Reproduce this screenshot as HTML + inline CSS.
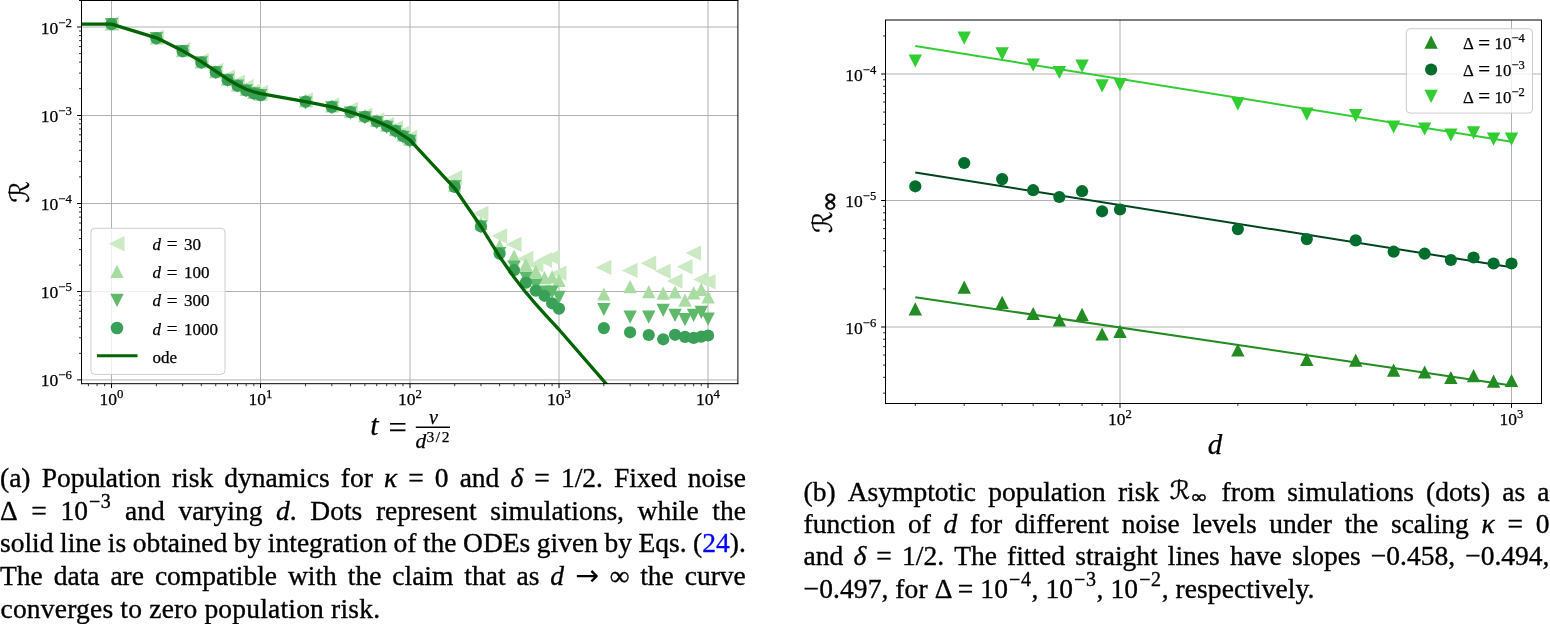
<!DOCTYPE html><html><head><meta charset="utf-8"><style>
html,body{margin:0;padding:0;background:#fff;width:1550px;height:624px;overflow:hidden;position:relative}
.c{position:absolute;font-family:'Liberation Serif', 'DejaVu Serif', serif;font-size:27.5px;line-height:1;color:#000;white-space:nowrap;-webkit-text-stroke:0.35px #000}
svg text{stroke:#000;stroke-width:0.25px}
.j{display:flex;justify-content:space-between}
.c i{font-style:italic}
.c b.l{font-weight:normal;color:#0000ff;-webkit-text-stroke:0.35px #0000ff}
.c sup{font-size:20px;vertical-align:0;position:relative;top:-11.5px;letter-spacing:0.6px;margin-left:1px}
.c sub{font-family:"DejaVu Sans",serif;font-size:21.5px;vertical-align:0;position:relative;top:3.2px;left:-1.5px;-webkit-text-stroke:0.5px #000;display:inline-block;transform:scaleY(0.85)}
.m{font-family:"DejaVu Sans",serif;font-size:25.5px;-webkit-text-stroke:0.4px #000;position:relative;top:-1.5px;left:-1.5px}
.ar{font-family:"DejaVu Sans",serif;font-size:28.5px;-webkit-text-stroke:0}
</style></head><body>
<svg width="1550" height="624" viewBox="0 0 1550 624" style="position:absolute;left:0;top:0">
<defs><clipPath id="cl"><rect x="81.5" y="0.5" width="656.4" height="383.2"/></clipPath>
<clipPath id="cr"><rect x="885.5" y="20" width="656" height="383.5"/></clipPath></defs>
<path d="M111.5 0.5V383.7M260.5 0.5V383.7M410 0.5V383.7M559 0.5V383.7M708 0.5V383.7M81.5 379.9H737.9M81.5 291.5H737.9M81.5 203.5H737.9M81.5 115.5H737.9M81.5 27H737.9" stroke="#b0b0b0" stroke-width="1" fill="none"/>
<path d="M1120 20V403.5M1511.5 20V403.5M885.5 327H1541.5M885.5 200.5H1541.5M885.5 74H1541.5" stroke="#b0b0b0" stroke-width="1" fill="none"/>
<g clip-path="url(#cl)">
<polygon points="103.3,23.6 119,15.9 119,31.3" fill="#cbeac4"/>
<polygon points="148.2,37.2 163.9,29.5 163.9,44.9" fill="#cbeac4"/>
<polygon points="174.46,49.8 190.16,42.1 190.16,57.5" fill="#cbeac4"/>
<polygon points="193.1,60.8 208.8,53.1 208.8,68.5" fill="#cbeac4"/>
<polygon points="207.55,70.5 223.25,62.8 223.25,78.2" fill="#cbeac4"/>
<polygon points="219.36,77.1 235.06,69.4 235.06,84.8" fill="#cbeac4"/>
<polygon points="229.35,82.1 245.05,74.4 245.05,89.8" fill="#cbeac4"/>
<polygon points="238,86.7 253.7,79 253.7,94.4" fill="#cbeac4"/>
<polygon points="245.63,90.8 261.33,83.1 261.33,98.5" fill="#cbeac4"/>
<polygon points="252.45,92.5 268.15,84.8 268.15,100.2" fill="#cbeac4"/>
<polygon points="297.35,100 313.05,92.3 313.05,107.7" fill="#cbeac4"/>
<polygon points="323.61,105 339.31,97.3 339.31,112.7" fill="#cbeac4"/>
<polygon points="342.25,109.4 357.95,101.7 357.95,117.1" fill="#cbeac4"/>
<polygon points="356.7,115.1 372.4,107.4 372.4,122.8" fill="#cbeac4"/>
<polygon points="368.51,120.3 384.21,112.6 384.21,128" fill="#cbeac4"/>
<polygon points="378.5,124.5 394.2,116.8 394.2,132.2" fill="#cbeac4"/>
<polygon points="387.15,128.1 402.85,120.4 402.85,135.8" fill="#cbeac4"/>
<polygon points="394.78,132.8 410.48,125.1 410.48,140.5" fill="#cbeac4"/>
<polygon points="401.6,137.5 417.3,129.8 417.3,145.2" fill="#cbeac4"/>
<polygon points="446.5,177.8 462.2,170.1 462.2,185.5" fill="#cbeac4"/>
<polygon points="472.76,213.5 488.46,205.8 488.46,221.2" fill="#cbeac4"/>
<polygon points="491.4,236 507.1,228.3 507.1,243.7" fill="#cbeac4"/>
<polygon points="505.85,244.4 521.55,236.7 521.55,252.1" fill="#cbeac4"/>
<polygon points="517.66,258.5 533.36,250.8 533.36,266.2" fill="#cbeac4"/>
<polygon points="527.65,265 543.35,257.3 543.35,272.7" fill="#cbeac4"/>
<polygon points="536.3,260 552,252.3 552,267.7" fill="#cbeac4"/>
<polygon points="543.93,257.5 559.63,249.8 559.63,265.2" fill="#cbeac4"/>
<polygon points="550.75,273.2 566.45,265.5 566.45,280.9" fill="#cbeac4"/>
<polygon points="595.65,267.4 611.35,259.7 611.35,275.1" fill="#cbeac4"/>
<polygon points="621.91,270.4 637.61,262.7 637.61,278.1" fill="#cbeac4"/>
<polygon points="640.55,263.2 656.25,255.5 656.25,270.9" fill="#cbeac4"/>
<polygon points="655,271.25 670.7,263.55 670.7,278.95" fill="#cbeac4"/>
<polygon points="666.81,281.1 682.51,273.4 682.51,288.8" fill="#cbeac4"/>
<polygon points="676.8,266.7 692.5,259 692.5,274.4" fill="#cbeac4"/>
<polygon points="685.45,253.1 701.15,245.4 701.15,260.8" fill="#cbeac4"/>
<polygon points="693.08,279.4 708.78,271.7 708.78,287.1" fill="#cbeac4"/>
<polygon points="699.9,281.8 715.6,274.1 715.6,289.5" fill="#cbeac4"/>
<polygon points="111.5,17.3 104.8,30.5 118.2,30.5" fill="#a9dca2"/>
<polygon points="156.4,31.4 149.7,44.6 163.1,44.6" fill="#a9dca2"/>
<polygon points="182.66,44.1 175.96,57.3 189.36,57.3" fill="#a9dca2"/>
<polygon points="201.3,55.4 194.6,68.6 208,68.6" fill="#a9dca2"/>
<polygon points="215.75,65.1 209.05,78.3 222.45,78.3" fill="#a9dca2"/>
<polygon points="227.56,72.6 220.86,85.8 234.26,85.8" fill="#a9dca2"/>
<polygon points="237.55,78.3 230.85,91.5 244.25,91.5" fill="#a9dca2"/>
<polygon points="246.2,82.9 239.5,96.1 252.9,96.1" fill="#a9dca2"/>
<polygon points="253.83,85.9 247.13,99.1 260.53,99.1" fill="#a9dca2"/>
<polygon points="260.65,87.6 253.95,100.8 267.35,100.8" fill="#a9dca2"/>
<polygon points="305.55,94.1 298.85,107.3 312.25,107.3" fill="#a9dca2"/>
<polygon points="331.81,99.3 325.11,112.5 338.51,112.5" fill="#a9dca2"/>
<polygon points="350.45,104.6 343.75,117.8 357.15,117.8" fill="#a9dca2"/>
<polygon points="364.9,109.1 358.2,122.3 371.6,122.3" fill="#a9dca2"/>
<polygon points="376.71,113.9 370.01,127.1 383.41,127.1" fill="#a9dca2"/>
<polygon points="386.7,118.6 380,131.8 393.4,131.8" fill="#a9dca2"/>
<polygon points="395.35,123.1 388.65,136.3 402.05,136.3" fill="#a9dca2"/>
<polygon points="402.98,128.3 396.28,141.5 409.68,141.5" fill="#a9dca2"/>
<polygon points="409.8,132.6 403.1,145.8 416.5,145.8" fill="#a9dca2"/>
<polygon points="454.7,178.6 448,191.8 461.4,191.8" fill="#a9dca2"/>
<polygon points="480.96,216.8 474.26,230 487.66,230" fill="#a9dca2"/>
<polygon points="499.6,239 492.9,252.2 506.3,252.2" fill="#a9dca2"/>
<polygon points="514.05,249.6 507.35,262.8 520.75,262.8" fill="#a9dca2"/>
<polygon points="525.86,257.9 519.16,271.1 532.56,271.1" fill="#a9dca2"/>
<polygon points="535.85,264.8 529.15,278 542.55,278" fill="#a9dca2"/>
<polygon points="544.5,271 537.8,284.2 551.2,284.2" fill="#a9dca2"/>
<polygon points="552.13,270.2 545.43,283.4 558.83,283.4" fill="#a9dca2"/>
<polygon points="558.95,273.7 552.25,286.9 565.65,286.9" fill="#a9dca2"/>
<polygon points="603.85,287.4 597.15,300.6 610.55,300.6" fill="#a9dca2"/>
<polygon points="630.11,280.1 623.41,293.3 636.81,293.3" fill="#a9dca2"/>
<polygon points="648.75,285 642.05,298.2 655.45,298.2" fill="#a9dca2"/>
<polygon points="663.2,286.6 656.5,299.8 669.9,299.8" fill="#a9dca2"/>
<polygon points="675.01,285.4 668.31,298.6 681.71,298.6" fill="#a9dca2"/>
<polygon points="685,293.6 678.3,306.8 691.7,306.8" fill="#a9dca2"/>
<polygon points="693.65,286.2 686.95,299.4 700.35,299.4" fill="#a9dca2"/>
<polygon points="701.28,282.7 694.58,295.9 707.98,295.9" fill="#a9dca2"/>
<polygon points="708.1,290.2 701.4,303.4 714.8,303.4" fill="#a9dca2"/>
<polygon points="111.5,31.1 104.8,17.9 118.2,17.9" fill="#5eb96a"/>
<polygon points="156.4,45.2 149.7,32 163.1,32" fill="#5eb96a"/>
<polygon points="182.66,58.1 175.96,44.9 189.36,44.9" fill="#5eb96a"/>
<polygon points="201.3,69.4 194.6,56.2 208,56.2" fill="#5eb96a"/>
<polygon points="215.75,79.2 209.05,66 222.45,66" fill="#5eb96a"/>
<polygon points="227.56,86.9 220.86,73.7 234.26,73.7" fill="#5eb96a"/>
<polygon points="237.55,92.7 230.85,79.5 244.25,79.5" fill="#5eb96a"/>
<polygon points="246.2,97.4 239.5,84.2 252.9,84.2" fill="#5eb96a"/>
<polygon points="253.83,100.4 247.13,87.2 260.53,87.2" fill="#5eb96a"/>
<polygon points="260.65,102.1 253.95,88.9 267.35,88.9" fill="#5eb96a"/>
<polygon points="305.55,109.6 298.85,96.4 312.25,96.4" fill="#5eb96a"/>
<polygon points="331.81,114.4 325.11,101.2 338.51,101.2" fill="#5eb96a"/>
<polygon points="350.45,119.7 343.75,106.5 357.15,106.5" fill="#5eb96a"/>
<polygon points="364.9,124.4 358.2,111.2 371.6,111.2" fill="#5eb96a"/>
<polygon points="376.71,129.2 370.01,116 383.41,116" fill="#5eb96a"/>
<polygon points="386.7,133.9 380,120.7 393.4,120.7" fill="#5eb96a"/>
<polygon points="395.35,138.4 388.65,125.2 402.05,125.2" fill="#5eb96a"/>
<polygon points="402.98,143.9 396.28,130.7 409.68,130.7" fill="#5eb96a"/>
<polygon points="409.8,147.9 403.1,134.7 416.5,134.7" fill="#5eb96a"/>
<polygon points="454.7,193.1 448,179.9 461.4,179.9" fill="#5eb96a"/>
<polygon points="480.96,233.4 474.26,220.2 487.66,220.2" fill="#5eb96a"/>
<polygon points="499.6,260.3 492.9,247.1 506.3,247.1" fill="#5eb96a"/>
<polygon points="514.05,273.6 507.35,260.4 520.75,260.4" fill="#5eb96a"/>
<polygon points="525.86,284.6 519.16,271.4 532.56,271.4" fill="#5eb96a"/>
<polygon points="535.85,291.7 529.15,278.5 542.55,278.5" fill="#5eb96a"/>
<polygon points="544.5,298.6 537.8,285.4 551.2,285.4" fill="#5eb96a"/>
<polygon points="552.13,298.6 545.43,285.4 558.83,285.4" fill="#5eb96a"/>
<polygon points="558.95,304 552.25,290.8 565.65,290.8" fill="#5eb96a"/>
<polygon points="603.85,316.1 597.15,302.9 610.55,302.9" fill="#5eb96a"/>
<polygon points="630.11,323.7 623.41,310.5 636.81,310.5" fill="#5eb96a"/>
<polygon points="648.75,323.7 642.05,310.5 655.45,310.5" fill="#5eb96a"/>
<polygon points="663.2,316.9 656.5,303.7 669.9,303.7" fill="#5eb96a"/>
<polygon points="675.01,321.9 668.31,308.7 681.71,308.7" fill="#5eb96a"/>
<polygon points="685,326.2 678.3,313 691.7,313" fill="#5eb96a"/>
<polygon points="693.65,321.9 686.95,308.7 700.35,308.7" fill="#5eb96a"/>
<polygon points="701.28,319 694.58,305.8 707.98,305.8" fill="#5eb96a"/>
<polygon points="708.1,325.8 701.4,312.6 714.8,312.6" fill="#5eb96a"/>
<circle cx="111.5" cy="24.2" r="6.1" fill="#3a9f57"/>
<circle cx="156.4" cy="38.3" r="6.1" fill="#3a9f57"/>
<circle cx="182.66" cy="51.2" r="6.1" fill="#3a9f57"/>
<circle cx="201.3" cy="62.5" r="6.1" fill="#3a9f57"/>
<circle cx="215.75" cy="72.3" r="6.1" fill="#3a9f57"/>
<circle cx="227.56" cy="80" r="6.1" fill="#3a9f57"/>
<circle cx="237.55" cy="85.8" r="6.1" fill="#3a9f57"/>
<circle cx="246.2" cy="90.5" r="6.1" fill="#3a9f57"/>
<circle cx="253.83" cy="93.5" r="6.1" fill="#3a9f57"/>
<circle cx="260.65" cy="95.2" r="6.1" fill="#3a9f57"/>
<circle cx="305.55" cy="101.7" r="6.1" fill="#3a9f57"/>
<circle cx="331.81" cy="106.9" r="6.1" fill="#3a9f57"/>
<circle cx="350.45" cy="112.1" r="6.1" fill="#3a9f57"/>
<circle cx="364.9" cy="116.8" r="6.1" fill="#3a9f57"/>
<circle cx="376.71" cy="121.5" r="6.1" fill="#3a9f57"/>
<circle cx="386.7" cy="126.1" r="6.1" fill="#3a9f57"/>
<circle cx="395.35" cy="130.8" r="6.1" fill="#3a9f57"/>
<circle cx="402.98" cy="136" r="6.1" fill="#3a9f57"/>
<circle cx="409.8" cy="140.2" r="6.1" fill="#3a9f57"/>
<circle cx="454.7" cy="186.9" r="6.1" fill="#3a9f57"/>
<circle cx="480.96" cy="226.4" r="6.1" fill="#3a9f57"/>
<circle cx="499.6" cy="253.7" r="6.1" fill="#3a9f57"/>
<circle cx="514.05" cy="270.2" r="6.1" fill="#3a9f57"/>
<circle cx="525.86" cy="282.6" r="6.1" fill="#3a9f57"/>
<circle cx="535.85" cy="290.6" r="6.1" fill="#3a9f57"/>
<circle cx="544.5" cy="295.8" r="6.1" fill="#3a9f57"/>
<circle cx="552.13" cy="303.3" r="6.1" fill="#3a9f57"/>
<circle cx="558.95" cy="308.6" r="6.1" fill="#3a9f57"/>
<circle cx="603.85" cy="328.1" r="6.1" fill="#3a9f57"/>
<circle cx="630.11" cy="332.3" r="6.1" fill="#3a9f57"/>
<circle cx="648.75" cy="335" r="6.1" fill="#3a9f57"/>
<circle cx="663.2" cy="339.3" r="6.1" fill="#3a9f57"/>
<circle cx="675.01" cy="334.8" r="6.1" fill="#3a9f57"/>
<circle cx="685" cy="336.9" r="6.1" fill="#3a9f57"/>
<circle cx="693.65" cy="337.9" r="6.1" fill="#3a9f57"/>
<circle cx="701.28" cy="336.7" r="6.1" fill="#3a9f57"/>
<circle cx="708.1" cy="335.5" r="6.1" fill="#3a9f57"/>
<polyline points="79.5,24.2 111.5,24.2 156.4,37.8 182.66,50.8 201.3,61.7 215.75,71.2 227.56,79.2 237.55,85 246.2,89.2 253.83,91.8 260.65,93.6 305.55,101.7 331.81,106.9 350.45,112.1 364.9,116.8 376.71,121.3 386.7,125.8 395.35,130.3 402.98,135.3 409.8,139.9 454.7,188.3 480.96,226.5 499.6,256.6 514.05,277.3 525.86,292.4 535.85,304.2 544.5,313.9 552.13,322.2 558.95,329.5 603.85,381.1 630.11,411.2" fill="none" stroke="#006400" stroke-width="3.3" stroke-linejoin="round" stroke-linecap="butt"/>
</g>
<g clip-path="url(#cr)">
<line x1="915.29" y1="297.2" x2="1511.5" y2="385.6" stroke="#228b22" stroke-width="2"/>
<line x1="915.29" y1="172.4" x2="1511.5" y2="267.3" stroke="#00441b" stroke-width="2"/>
<line x1="915.29" y1="46" x2="1511.5" y2="141.8" stroke="#32cd32" stroke-width="2"/>
<polygon points="915.29,302.3 908.59,315.5 921.99,315.5" fill="#228b22"/>
<polygon points="964.21,280.5 957.51,293.7 970.91,293.7" fill="#228b22"/>
<polygon points="1002.15,295.8 995.45,309 1008.85,309" fill="#228b22"/>
<polygon points="1033.15,306.9 1026.45,320.1 1039.85,320.1" fill="#228b22"/>
<polygon points="1059.36,313.3 1052.66,326.5 1066.06,326.5" fill="#228b22"/>
<polygon points="1082.06,307.8 1075.36,321 1088.76,321" fill="#228b22"/>
<polygon points="1102.09,327.4 1095.39,340.6 1108.79,340.6" fill="#228b22"/>
<polygon points="1120,324.8 1113.3,338 1126.7,338" fill="#228b22"/>
<polygon points="1237.85,343.4 1231.15,356.6 1244.55,356.6" fill="#228b22"/>
<polygon points="1306.79,352.7 1300.09,365.9 1313.49,365.9" fill="#228b22"/>
<polygon points="1355.71,353.5 1349.01,366.7 1362.41,366.7" fill="#228b22"/>
<polygon points="1393.65,363.6 1386.95,376.8 1400.35,376.8" fill="#228b22"/>
<polygon points="1424.65,365.4 1417.95,378.6 1431.35,378.6" fill="#228b22"/>
<polygon points="1450.86,370.9 1444.16,384.1 1457.56,384.1" fill="#228b22"/>
<polygon points="1473.56,369.1 1466.86,382.3 1480.26,382.3" fill="#228b22"/>
<polygon points="1493.59,374.6 1486.89,387.8 1500.29,387.8" fill="#228b22"/>
<polygon points="1511.5,373.9 1504.8,387.1 1518.2,387.1" fill="#228b22"/>
<circle cx="915.29" cy="186.3" r="6.1" fill="#006d2c"/>
<circle cx="964.21" cy="163" r="6.1" fill="#006d2c"/>
<circle cx="1002.15" cy="179.1" r="6.1" fill="#006d2c"/>
<circle cx="1033.15" cy="190.2" r="6.1" fill="#006d2c"/>
<circle cx="1059.36" cy="197" r="6.1" fill="#006d2c"/>
<circle cx="1082.06" cy="191.2" r="6.1" fill="#006d2c"/>
<circle cx="1102.09" cy="211.3" r="6.1" fill="#006d2c"/>
<circle cx="1120" cy="209.5" r="6.1" fill="#006d2c"/>
<circle cx="1237.85" cy="229.1" r="6.1" fill="#006d2c"/>
<circle cx="1306.79" cy="239.1" r="6.1" fill="#006d2c"/>
<circle cx="1355.71" cy="240.4" r="6.1" fill="#006d2c"/>
<circle cx="1393.65" cy="251.7" r="6.1" fill="#006d2c"/>
<circle cx="1424.65" cy="253.7" r="6.1" fill="#006d2c"/>
<circle cx="1450.86" cy="260" r="6.1" fill="#006d2c"/>
<circle cx="1473.56" cy="257.5" r="6.1" fill="#006d2c"/>
<circle cx="1493.59" cy="263.5" r="6.1" fill="#006d2c"/>
<circle cx="1511.5" cy="263.5" r="6.1" fill="#006d2c"/>
<polygon points="915.29,67.6 908.59,54.4 921.99,54.4" fill="#32cd32"/>
<polygon points="964.21,44.8 957.51,31.6 970.91,31.6" fill="#32cd32"/>
<polygon points="1002.15,60.5 995.45,47.3 1008.85,47.3" fill="#32cd32"/>
<polygon points="1033.15,71.6 1026.45,58.4 1039.85,58.4" fill="#32cd32"/>
<polygon points="1059.36,79.1 1052.66,65.9 1066.06,65.9" fill="#32cd32"/>
<polygon points="1082.06,72.7 1075.36,59.5 1088.76,59.5" fill="#32cd32"/>
<polygon points="1102.09,92.5 1095.39,79.3 1108.79,79.3" fill="#32cd32"/>
<polygon points="1120,91.2 1113.3,78 1126.7,78" fill="#32cd32"/>
<polygon points="1237.85,110.4 1231.15,97.2 1244.55,97.2" fill="#32cd32"/>
<polygon points="1306.79,120.8 1300.09,107.6 1313.49,107.6" fill="#32cd32"/>
<polygon points="1355.71,122.3 1349.01,109.1 1362.41,109.1" fill="#32cd32"/>
<polygon points="1393.65,133.6 1386.95,120.4 1400.35,120.4" fill="#32cd32"/>
<polygon points="1424.65,135.6 1417.95,122.4 1431.35,122.4" fill="#32cd32"/>
<polygon points="1450.86,141.6 1444.16,128.4 1457.56,128.4" fill="#32cd32"/>
<polygon points="1473.56,139.4 1466.86,126.2 1480.26,126.2" fill="#32cd32"/>
<polygon points="1493.59,145.7 1486.89,132.5 1500.29,132.5" fill="#32cd32"/>
<polygon points="1511.5,145.7 1504.8,132.5 1518.2,132.5" fill="#32cd32"/>
</g>
<path d="M81.5 379.9H77.1M81.5 291.5H77.1M81.5 203.5H77.1M81.5 115.5H77.1M81.5 27H77.1M111.5 383.7V388.1M260.5 383.7V388.1M410 383.7V388.1M559 383.7V388.1M708 383.7V388.1" stroke="#000" stroke-width="1" fill="none"/>
<path d="M81.5 353.36H79M81.5 337.82H79M81.5 326.8H79M81.5 318.25H79M81.5 311.26H79M81.5 305.36H79M81.5 300.24H79M81.5 295.73H79M81.5 265.13H79M81.5 249.59H79M81.5 238.57H79M81.5 230.02H79M81.5 223.03H79M81.5 217.13H79M81.5 212.01H79M81.5 207.5H79M81.5 176.9H79M81.5 161.36H79M81.5 150.34H79M81.5 141.79H79M81.5 134.8H79M81.5 128.9H79M81.5 123.78H79M81.5 119.27H79M81.5 88.67H79M81.5 73.13H79M81.5 62.11H79M81.5 53.56H79M81.5 46.57H79M81.5 40.67H79M81.5 35.55H79M81.5 31.04H79M88.4 383.7V386.2M97.05 383.7V386.2M104.68 383.7V386.2M156.4 383.7V386.2M182.66 383.7V386.2M201.3 383.7V386.2M215.75 383.7V386.2M227.56 383.7V386.2M237.55 383.7V386.2M246.2 383.7V386.2M253.83 383.7V386.2M305.55 383.7V386.2M331.81 383.7V386.2M350.45 383.7V386.2M364.9 383.7V386.2M376.71 383.7V386.2M386.7 383.7V386.2M395.35 383.7V386.2M402.98 383.7V386.2M454.7 383.7V386.2M480.96 383.7V386.2M499.6 383.7V386.2M514.05 383.7V386.2M525.86 383.7V386.2M535.85 383.7V386.2M544.5 383.7V386.2M552.13 383.7V386.2M603.85 383.7V386.2M630.11 383.7V386.2M648.75 383.7V386.2M663.2 383.7V386.2M675.01 383.7V386.2M685 383.7V386.2M693.65 383.7V386.2M701.28 383.7V386.2" stroke="#000" stroke-width="0.8" fill="none"/>
<path d="M885.5 327H881.1M885.5 200.5H881.1M885.5 74H881.1M1120 403.5V407.9M1511.5 403.5V407.9" stroke="#000" stroke-width="1" fill="none"/>
<path d="M885.5 393.14H883M885.5 377.34H883M885.5 365.08H883M885.5 355.06H883M885.5 346.6H883M885.5 339.26H883M885.5 332.79H883M885.5 288.92H883M885.5 266.64H883M885.5 250.84H883M885.5 238.58H883M885.5 228.56H883M885.5 220.1H883M885.5 212.76H883M885.5 206.29H883M885.5 162.42H883M885.5 140.14H883M885.5 124.34H883M885.5 112.08H883M885.5 102.06H883M885.5 93.6H883M885.5 86.26H883M885.5 79.79H883M885.5 35.92H883M915.29 403.5V406M964.21 403.5V406M1002.15 403.5V406M1033.15 403.5V406M1059.36 403.5V406M1082.06 403.5V406M1102.09 403.5V406M1237.85 403.5V406M1306.79 403.5V406M1355.71 403.5V406M1393.65 403.5V406M1424.65 403.5V406M1450.86 403.5V406M1473.56 403.5V406M1493.59 403.5V406" stroke="#000" stroke-width="0.8" fill="none"/>
<path d="M79 0.5H738.4M81.5 0V384.2M737.9 0V384.2M81 383.7H738.4" stroke="#000" stroke-width="1" fill="none"/>
<rect x="885.5" y="20" width="656" height="383.5" fill="none" stroke="#000" stroke-width="1"/>
<rect x="90.9" y="228.25" width="134.1" height="146.15" rx="4" ry="4" fill="#fff" fill-opacity="0.8" stroke="#cccccc" stroke-width="1"/>
<polygon points="108.8,243.75 124.5,236.05 124.5,251.45" fill="#cbeac4"/>
<polygon points="117,264.85 110.3,278.05 123.7,278.05" fill="#a9dca2"/>
<polygon points="117,306.9 110.3,293.7 123.7,293.7" fill="#5eb96a"/>
<circle cx="117" cy="328" r="6.3" fill="#3a9f57"/>
<line x1="97" y1="355.75" x2="137.5" y2="355.75" stroke="#006400" stroke-width="3.1"/>
<text x="152.5" y="250" font-family="'Liberation Serif', 'DejaVu Serif', serif" font-size="17"><tspan font-style="italic">d</tspan><tspan x="166.8" font-size="19" dy="0.3">=</tspan><tspan x="184" dy="-0.3">30</tspan></text>
<text x="152.5" y="278.2" font-family="'Liberation Serif', 'DejaVu Serif', serif" font-size="17"><tspan font-style="italic">d</tspan><tspan x="166.8" font-size="19" dy="0.3">=</tspan><tspan x="184" dy="-0.3">100</tspan></text>
<text x="152.5" y="306.4" font-family="'Liberation Serif', 'DejaVu Serif', serif" font-size="17"><tspan font-style="italic">d</tspan><tspan x="166.8" font-size="19" dy="0.3">=</tspan><tspan x="184" dy="-0.3">300</tspan></text>
<text x="152.5" y="334.6" font-family="'Liberation Serif', 'DejaVu Serif', serif" font-size="17"><tspan font-style="italic">d</tspan><tspan x="166.8" font-size="19" dy="0.3">=</tspan><tspan x="184" dy="-0.3">1000</tspan></text>
<text x="152.5" y="362.8" font-family="'Liberation Serif', 'DejaVu Serif', serif" font-size="17">ode</text>
<rect x="1406.3" y="28.7" width="126.2" height="84.4" rx="4" ry="4" fill="#fff" fill-opacity="0.8" stroke="#cccccc" stroke-width="1"/>
<polygon points="1431.1,35.6 1424.4,48.8 1437.8,48.8" fill="#228b22"/>
<circle cx="1431.1" cy="69.5" r="6.1" fill="#006d2c"/>
<polygon points="1431.1,103 1424.4,89.8 1437.8,89.8" fill="#32cd32"/>
<text x="1463" y="49.2" font-family="'Liberation Serif', 'DejaVu Serif', serif" font-size="16.8">Δ<tspan x="1478.3" font-size="21" dy="0.6">=</tspan><tspan x="1494.6" dy="-0.6">10</tspan><tspan font-size="12.5" dy="-6.8">−4</tspan></text>
<text x="1463" y="75.85" font-family="'Liberation Serif', 'DejaVu Serif', serif" font-size="16.8">Δ<tspan x="1478.3" font-size="21" dy="0.6">=</tspan><tspan x="1494.6" dy="-0.6">10</tspan><tspan font-size="12.5" dy="-6.8">−3</tspan></text>
<text x="1463" y="102.5" font-family="'Liberation Serif', 'DejaVu Serif', serif" font-size="16.8">Δ<tspan x="1478.3" font-size="21" dy="0.6">=</tspan><tspan x="1494.6" dy="-0.6">10</tspan><tspan font-size="12.5" dy="-6.8">−2</tspan></text>
<text x="71.9" y="386.4" font-family="'Liberation Serif', 'DejaVu Serif', serif" font-size="17.6" text-anchor="end">10<tspan font-size="12.8" dy="-7">−6</tspan></text>
<text x="71.9" y="298" font-family="'Liberation Serif', 'DejaVu Serif', serif" font-size="17.6" text-anchor="end">10<tspan font-size="12.8" dy="-7">−5</tspan></text>
<text x="71.9" y="210" font-family="'Liberation Serif', 'DejaVu Serif', serif" font-size="17.6" text-anchor="end">10<tspan font-size="12.8" dy="-7">−4</tspan></text>
<text x="71.9" y="122" font-family="'Liberation Serif', 'DejaVu Serif', serif" font-size="17.6" text-anchor="end">10<tspan font-size="12.8" dy="-7">−3</tspan></text>
<text x="71.9" y="33.5" font-family="'Liberation Serif', 'DejaVu Serif', serif" font-size="17.6" text-anchor="end">10<tspan font-size="12.8" dy="-7">−2</tspan></text>
<text x="111.5" y="405" font-family="'Liberation Serif', 'DejaVu Serif', serif" font-size="17.6" text-anchor="middle">10<tspan font-size="12.8" dy="-7">0</tspan></text>
<text x="260.5" y="405" font-family="'Liberation Serif', 'DejaVu Serif', serif" font-size="17.6" text-anchor="middle">10<tspan font-size="12.8" dy="-7">1</tspan></text>
<text x="410" y="405" font-family="'Liberation Serif', 'DejaVu Serif', serif" font-size="17.6" text-anchor="middle">10<tspan font-size="12.8" dy="-7">2</tspan></text>
<text x="559" y="405" font-family="'Liberation Serif', 'DejaVu Serif', serif" font-size="17.6" text-anchor="middle">10<tspan font-size="12.8" dy="-7">3</tspan></text>
<text x="708" y="405" font-family="'Liberation Serif', 'DejaVu Serif', serif" font-size="17.6" text-anchor="middle">10<tspan font-size="12.8" dy="-7">4</tspan></text>
<text x="876.2" y="333.6" font-family="'Liberation Serif', 'DejaVu Serif', serif" font-size="17.5" text-anchor="end">10<tspan font-size="12.6" dy="-7">−6</tspan></text>
<text x="876.2" y="207.1" font-family="'Liberation Serif', 'DejaVu Serif', serif" font-size="17.5" text-anchor="end">10<tspan font-size="12.6" dy="-7">−5</tspan></text>
<text x="876.2" y="80.6" font-family="'Liberation Serif', 'DejaVu Serif', serif" font-size="17.5" text-anchor="end">10<tspan font-size="12.6" dy="-7">−4</tspan></text>
<text x="1120" y="425" font-family="'Liberation Serif', 'DejaVu Serif', serif" font-size="17.5" text-anchor="middle">10<tspan font-size="12.6" dy="-7">2</tspan></text>
<text x="1511.5" y="425" font-family="'Liberation Serif', 'DejaVu Serif', serif" font-size="17.5" text-anchor="middle">10<tspan font-size="12.6" dy="-7">3</tspan></text>
<text transform="translate(29,192) rotate(-90)" font-family="'DejaVu Sans', serif" font-size="27" text-anchor="middle">ℛ</text>
<text transform="translate(831.8,212) rotate(-90)" font-family="'DejaVu Sans', serif" font-size="27" text-anchor="middle">ℛ<tspan font-size="25.5" dy="6.6" dx="-1" stroke-width="0.5">∞</tspan></text>
<text x="1215" y="454" font-family="'Liberation Serif', 'DejaVu Serif', serif" font-size="29" font-style="italic" text-anchor="middle">d</text>
<text x="370.3" y="435.4" font-family="'Liberation Serif', 'DejaVu Serif', serif" font-size="30" font-style="italic">t</text>
<text x="388.6" y="438.2" font-family="'Liberation Serif', 'DejaVu Serif', serif" font-size="32.5">=</text>
<line x1="415.8" y1="427.3" x2="450" y2="427.3" stroke="#000" stroke-width="1.6"/>
<text x="433.5" y="424" font-family="'Liberation Serif', 'DejaVu Serif', serif" font-size="20" font-style="italic" text-anchor="middle">ν</text>
<text x="415.6" y="448" font-family="'Liberation Serif', 'DejaVu Serif', serif" font-size="21.5" font-style="italic">d</text>
<text x="426.6" y="441.6" font-family="'Liberation Serif', 'DejaVu Serif', serif" font-size="15.5" letter-spacing="1.5">3/2</text>
</svg>
<div class="c j" style="left:0px;width:746px;top:464.1px;height:28px"><span>(a)</span><span>Population</span><span>risk</span><span>dynamics</span><span>for</span><span><i>κ</i></span><span>=</span><span>0</span><span>and</span><span><i>δ</i></span><span>=</span><span>1/2.</span><span>Fixed</span><span>noise</span></div>
<div class="c j" style="left:0px;width:746px;top:496.65px;height:28px"><span>Δ</span><span>=</span><span>10<sup>−3</sup></span><span>and</span><span>varying</span><span><i>d</i>.</span><span>Dots</span><span>represent</span><span>simulations,</span><span>while</span><span>the</span></div>
<div class="c j" style="left:0px;width:746px;top:529.2px;height:28px"><span>solid</span><span>line</span><span>is</span><span>obtained</span><span>by</span><span>integration</span><span>of</span><span>the</span><span>ODEs</span><span>given</span><span>by</span><span>Eqs.</span><span>(<b class=l>24</b>).</span></div>
<div class="c j" style="left:0px;width:746px;top:561.75px;height:28px"><span>The</span><span>data</span><span>are</span><span>compatible</span><span>with</span><span>the</span><span>claim</span><span>that</span><span>as</span><span><i>d</i></span><span><span class=ar>→</span></span><span>∞</span><span>the</span><span>curve</span></div>
<div class="c" style="left:0.5px;top:594.7px;letter-spacing:0.2px">converges to zero population risk.</div>
<div class="c j" style="left:803.6px;width:746px;top:477.6px;height:28px"><span>(b)</span><span>Asymptotic</span><span>population</span><span>risk</span><span><span class=m>ℛ</span><sub>∞</sub></span><span>from</span><span>simulations</span><span>(dots)</span><span>as</span><span>a</span></div>
<div class="c j" style="left:803.6px;width:746px;top:509.9px;height:28px"><span>function</span><span>of</span><span><i>d</i></span><span>for</span><span>different</span><span>noise</span><span>levels</span><span>under</span><span>the</span><span>scaling</span><span><i>κ</i></span><span>=</span><span>0</span></div>
<div class="c j" style="left:803.6px;width:746px;top:542.2px;height:28px"><span>and</span><span><i>δ</i></span><span>=</span><span>1/2.</span><span>The</span><span>fitted</span><span>straight</span><span>lines</span><span>have</span><span>slopes</span><span>−0.458,</span><span>−0.494,</span></div>
<div class="c" style="left:803.6px;top:574.5px;letter-spacing:0.08px">−0.497, for Δ = 10<sup>−4</sup>, 10<sup>−3</sup>, 10<sup>−2</sup>, respectively.</div>
</body></html>
